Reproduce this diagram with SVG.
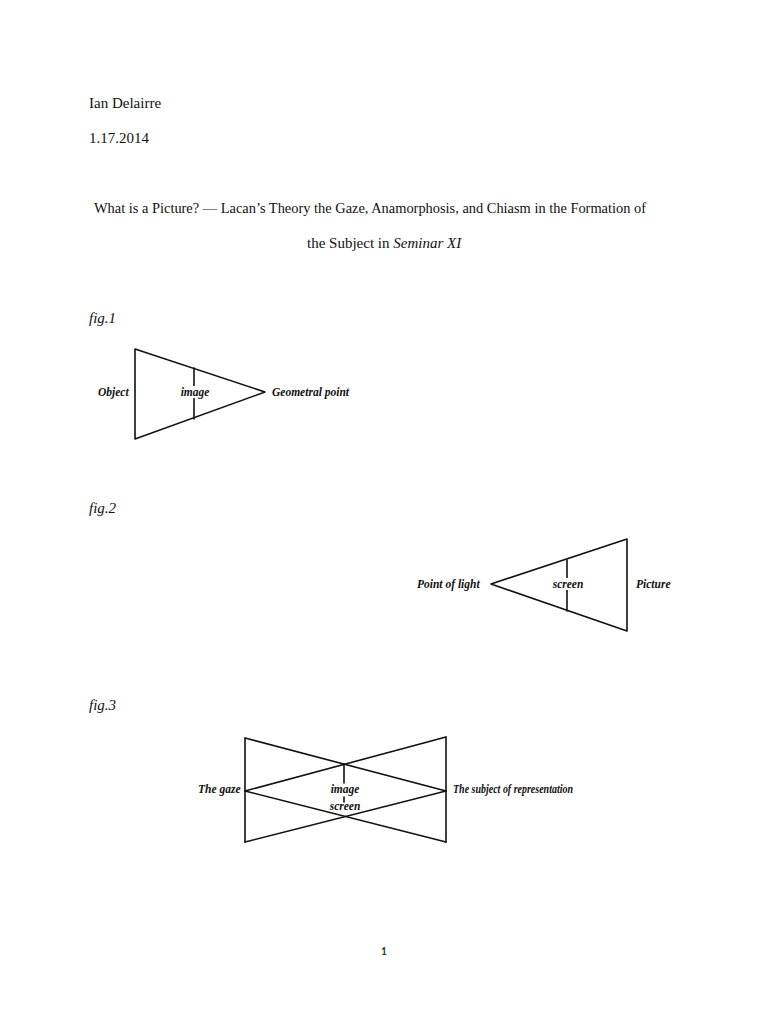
<svg xmlns="http://www.w3.org/2000/svg" width="768" height="1024" viewBox="0 0 768 1024">
<style>
.t{font-family:"Liberation Serif",serif;font-size:15px;fill:#111}
.fig{font-family:"Liberation Serif",serif;font-size:15px;font-style:italic;fill:#111}
.lbl{font-family:"Liberation Serif",serif;font-size:11.5px;font-style:italic;font-weight:bold;fill:#111}
.ln{stroke:#111;stroke-width:1.6;fill:none;stroke-linecap:round;stroke-linejoin:round}
.bg{fill:#fff}
</style>
<rect width="768" height="1024" fill="#fff"/>
<text class="t" x="89" y="108">Ian Delairre</text>
<text class="t" x="89" y="143">1.17.2014</text>
<text class="t" x="94" y="213" textLength="552" lengthAdjust="spacingAndGlyphs">What is a Picture? — Lacan’s Theory the Gaze, Anamorphosis, and Chiasm in the Formation of</text>
<text class="t" x="307" y="248">the Subject in <tspan font-style="italic">Seminar XI</tspan></text>
<text class="fig" x="89" y="323">fig.1</text>
<text class="fig" x="89" y="513">fig.2</text>
<text class="fig" x="89" y="710">fig.3</text>
<text x="381" y="955" font-family="Carlito, 'Liberation Sans', sans-serif" font-size="11" font-weight="bold" fill="#333">1</text>
<g id="fig1">
<path class="ln" d="M135,349 L265,392 L135,439 Z"/>
<line class="ln" x1="194" y1="368" x2="194" y2="419"/>
<rect class="bg" x="180" y="386" width="30" height="12"/>
<text class="lbl" x="98" y="396">Object</text>
<text class="lbl" x="195" y="396" text-anchor="middle">image</text>
<text class="lbl" x="272" y="396">Geometral point</text>
</g>
<g id="fig2">
<path class="ln" d="M627,539 L491,584 L627,631 Z"/>
<line class="ln" x1="567" y1="560" x2="567" y2="611"/>
<rect class="bg" x="552" y="578" width="32" height="12"/>
<text class="lbl" x="417" y="588">Point of light</text>
<text class="lbl" x="568" y="588" text-anchor="middle">screen</text>
<text class="lbl" x="636" y="588">Picture</text>
</g>
<g id="fig3">
<line class="ln" x1="245" y1="738" x2="245" y2="842"/>
<line class="ln" x1="446" y1="737" x2="446" y2="842"/>
<line class="ln" x1="245" y1="738" x2="446" y2="791"/>
<line class="ln" x1="245" y1="791" x2="446" y2="737"/>
<line class="ln" x1="245" y1="791" x2="446" y2="842"/>
<line class="ln" x1="245" y1="842" x2="446" y2="791"/>
<line class="ln" x1="344" y1="764" x2="344" y2="783"/>
<line class="ln" x1="344" y1="797" x2="344" y2="802"/>
<text class="lbl" x="198" y="793" font-size="10.5">The gaze</text>
<text class="lbl" x="345" y="793" text-anchor="middle" font-size="10.5">image</text>
<text class="lbl" x="345" y="810" text-anchor="middle" font-size="10.5">screen</text>
<text class="lbl" x="453" y="793" font-size="10.5" textLength="120" lengthAdjust="spacingAndGlyphs">The subject of representation</text>
</g>
</svg>
